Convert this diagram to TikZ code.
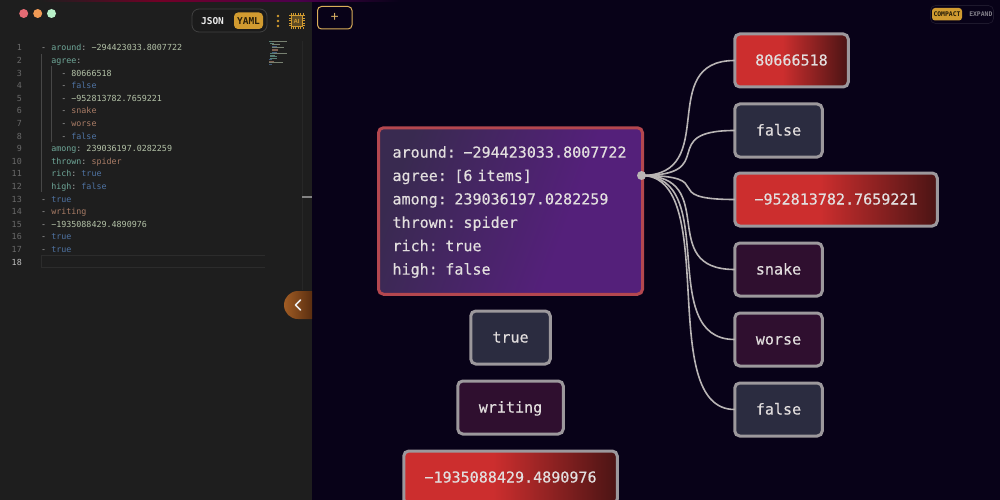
\documentclass[tikz,border=0pt]{standalone}
\usepackage{fontspec}
\setmainfont{Liberation Sans}
\setmonofont{DejaVu Sans Mono}
\newfontfamily\nodemono[FakeBold=0.4]{DejaVu Sans Mono}
\definecolor{canvas}{HTML}{080218}
\definecolor{panel}{HTML}{1E1E1E}
\definecolor{txt}{HTML}{E2DEDE}
\definecolor{edge}{HTML}{B9B5B5}
\definecolor{boxline}{HTML}{9C989C}
\definecolor{mainline}{HTML}{B4474F}
\definecolor{boolfill}{HTML}{2B2C40}
\definecolor{strfill}{HTML}{2F0F2F}
\definecolor{gold}{HTML}{D19B30}
\definecolor{ckey}{HTML}{6FA899}
\definecolor{cstr}{HTML}{A97C66}
\definecolor{cbool}{HTML}{4F73A3}
\definecolor{cnum}{HTML}{B4C3A8}
\definecolor{cdash}{HTML}{A8A8A8}
\definecolor{lnum}{HTML}{6A6A6A}
\definecolor{redA}{HTML}{CC2E2E}
\definecolor{redB}{HTML}{4A1414}
\definecolor{mainA}{HTML}{392A50}
\definecolor{mainB}{HTML}{54207A}
\definecolor{btnA}{HTML}{A05C24}
\definecolor{btnB}{HTML}{5A2E10}
\definecolor{dotR}{HTML}{E56B74}
\definecolor{dotO}{HTML}{F09A55}
\definecolor{dotG}{HTML}{B8F0C8}
\pgfdeclarehorizontalshading{numgrad}{100bp}{color(0bp)=(redA); color(46bp)=(redA); color(75bp)=(redB); color(100bp)=(redB)}
\pgfdeclarehorizontalshading{maingrad}{100bp}{color(0bp)=(mainA); color(25bp)=(mainA); color(62bp)=(mainB); color(100bp)=(mainB)}
\pgfdeclarehorizontalshading{btngrad}{100bp}{color(0bp)=(btnA); color(25bp)=(btnA); color(75bp)=(btnB); color(100bp)=(btnB)}
\pgfdeclarehorizontalshading{topgrad}{100bp}{color(0bp)=(panel); color(30bp)=(panel); color(45bp)=(purple!60!black); color(62bp)=(violet!60!black); color(75bp)=(canvas); color(100bp)=(canvas)}
\tikzset{
  box/.style={draw=boxline,line width=3pt,rounded corners=5pt,inner sep=0pt,outer sep=0pt,
    text=txt,font=\nodemono\fontsize{15.05}{18}\selectfont,text height=12pt,text depth=2pt,minimum height=53pt},
  boolbox/.style={box,fill=boolfill},
  strbox/.style={box,fill=strfill},
  numbox/.style={box,shading=numgrad},
  mainbox/.style={draw=mainline,line width=3pt,rounded corners=5pt,inner sep=0pt,outer sep=0pt,
    shading=maingrad,shading angle=-20,text=txt,align=left,text width=236pt,
    minimum width=264pt,minimum height=166.5pt,font=\nodemono\fontsize{15.05}{23.4}\selectfont},
  conn/.style={draw=edge,line width=1.6pt},
  handle/.style={circle,fill=edge,minimum size=9pt,inner sep=0pt,outer sep=0pt},
  lnlabel/.style={anchor=east,inner sep=0pt,text=lnum,font=\ttfamily\fontsize{8.36}{10}\selectfont,text height=7pt,text depth=.2pt},
  code/.style={anchor=west,inner sep=0pt,font=\ttfamily\fontsize{8.36}{10}\selectfont,text height=7pt,text depth=.2pt},
  guide/.style={draw=white!18!panel,line width=.7pt},
  toplabel/.style={inner sep=0pt,font=\ttfamily\bfseries\fontsize{9.5}{11}\selectfont},
  tinylabel/.style={inner sep=0pt,font=\ttfamily\bfseries\fontsize{6.4}{8}\selectfont},
  dotbtn/.style={circle,minimum size=9pt,inner sep=0pt},
  golddot/.style={circle,fill=gold,minimum size=2.8pt,inner sep=0pt},
}
\newcommand{\codeln}[3]{%
  \node[lnlabel] (ln#1) at (22,{47.5+12.6*(#1-1)}) {#1};
  \node[code] (cl#1) at ({41+5.03*#2},{47.5+12.6*(#1-1)}) {#3};}
\newcommand{\K}[1]{\textcolor{ckey}{#1}}
\newcommand{\St}[1]{\textcolor{cstr}{#1}}
\newcommand{\B}[1]{\textcolor{cbool}{#1}}
\newcommand{\Nm}[1]{\textcolor{cnum}{#1}}
\newcommand{\D}{\textcolor{cdash}{-}}
\begin{document}
\begin{tikzpicture}[x=1pt,y=-1pt]
\useasboundingbox (0,0) rectangle (1000,500);
\clip (0,0) rectangle (1000,500);
\fill[canvas] (0,0) rectangle (1000,500);
\fill[panel] (0,0) rectangle (312,500);
\shade[shading=topgrad] (0,0) rectangle (400,1.5);
% window controls
\node[dotbtn,fill=dotR] (wr) at (23.7,13.5) {};
\node[dotbtn,fill=dotO] (wo) at (37.7,13.5) {};
\node[dotbtn,fill=dotG] (wg) at (51.5,13.5) {};
% format switch
\draw[draw=white!15!panel,fill=black!10!panel,rounded corners=7pt,line width=.8pt] (192,9) rectangle (267,32);
\fill[gold,rounded corners=4pt] (234,12.5) rectangle (263,29);
\node[toplabel,text=white!92!black] (json) at (212.5,21) {JSON};
\node[toplabel,text=black!80!gold] (yaml) at (248.5,21) {YAML};
\node[golddot] (d1) at (278,16) {};
\node[golddot] (d2) at (278,21) {};
\node[golddot] (d3) at (278,26) {};
% chip icon
\draw[gold,line width=.9pt,fill=gold!35!panel] (291,15.5) rectangle (302,26.5);
\draw[gold,line width=2pt,dash pattern=on 1pt off 1.4pt] (290.5,14) -- (303,14);
\draw[gold,line width=2pt,dash pattern=on 1pt off 1.4pt] (290.5,28) -- (303,28);
\draw[gold,line width=2pt,dash pattern=on 1pt off 1.4pt] (289.5,15.5) -- (289.5,27);
\draw[gold,line width=2pt,dash pattern=on 1pt off 1.4pt] (303.5,15.5) -- (303.5,27);
\node[inner sep=0pt,text=gold,font=\bfseries\fontsize{6}{7}\selectfont] (ai) at (296.5,21) {AI};
% code
\draw[guide] (41,54) -- (41,192);
\draw[guide] (51,66) -- (51,142);
\codeln{1}{0}{\D\ \K{around}\textcolor{cdash}{:} \Nm{−294423033.8007722}}
\codeln{2}{2}{\K{agree}\textcolor{cdash}{:}}
\codeln{3}{4}{\D\ \Nm{80666518}}
\codeln{4}{4}{\D\ \B{false}}
\codeln{5}{4}{\D\ \Nm{−952813782.7659221}}
\codeln{6}{4}{\D\ \St{snake}}
\codeln{7}{4}{\D\ \St{worse}}
\codeln{8}{4}{\D\ \B{false}}
\codeln{9}{2}{\K{among}\textcolor{cdash}{:} \Nm{239036197.0282259}}
\codeln{10}{2}{\K{thrown}\textcolor{cdash}{:} \St{spider}}
\codeln{11}{2}{\K{rich}\textcolor{cdash}{:} \B{true}}
\codeln{12}{2}{\K{high}\textcolor{cdash}{:} \B{false}}
\codeln{13}{0}{\D\ \B{true}}
\codeln{14}{0}{\D\ \St{writing}}
\codeln{15}{0}{\D\ \Nm{−1935088429.4890976}}
\codeln{16}{0}{\D\ \B{true}}
\codeln{17}{0}{\D\ \B{true}}
\draw[draw=white!6!panel,line width=.8pt] (41,255.5) -- (265,255.5) (41,267.5) -- (265,267.5) (41,255.5) -- (41,267.5);
\node[lnlabel,text=white!75!black] (ln18) at (22,261.7) {18};
% minimap
\fill[ckey!70!panel] (269,41.5) rectangle (272,42.5);
\fill[cnum!60!panel] (272,41.5) rectangle (287,42.5);
\fill[ckey!70!panel] (270,43) rectangle (274,44);
\fill[cnum!60!panel] (272,44.5) rectangle (280,45.5);
\fill[cbool!70!panel] (272,46) rectangle (277,47);
\fill[cnum!60!panel] (272,47.5) rectangle (284,48.5);
\fill[cstr!70!panel] (272,49) rectangle (278,50);
\fill[cstr!70!panel] (272,50.5) rectangle (278,51.5);
\fill[cbool!70!panel] (272,52) rectangle (277,53);
\fill[ckey!70!panel] (270,53.5) rectangle (274,54.5);
\fill[cnum!60!panel] (274,53.5) rectangle (287,54.5);
\fill[ckey!70!panel] (270,55) rectangle (275,56);
\fill[ckey!70!panel] (270,56.5) rectangle (277,57.5);
\fill[ckey!70!panel] (270,58) rectangle (277,59);
\fill[cbool!70!panel] (269,59.5) rectangle (272,60.5);
\fill[cstr!70!panel] (269,61) rectangle (274,62);
\fill[cnum!60!panel] (269,62.5) rectangle (283,63.5);
\fill[cbool!70!panel] (269,64) rectangle (272,65);
% scrollbar
\draw[draw=white!4!panel,line width=.7pt] (302,41) -- (302,290);
\fill[white!45!panel] (302,196) rectangle (312,197.5);
% collapse button
\shade[shading=btngrad] (312,291) -- (298,291) arc[start angle=-90,end angle=-270,radius=14] -- (312,319) -- cycle;
\draw[white!92!black,line width=1.5pt,line cap=round,line join=round] (300.5,300) -- (295.5,305) -- (300.5,310);
% add button
\draw[draw=gold!80!white,rounded corners=4pt,line width=1pt] (317.5,6.5) rectangle (352,29);
\node[inner sep=0pt,text=gold!75!white,font=\fontsize{14}{14}\selectfont] (plus) at (334.7,17.5) {+};
% view toggle
\draw[draw=white!9!canvas,rounded corners=5pt,line width=.7pt] (930.5,5.5) rectangle (993.5,23.5);
\fill[gold,rounded corners=3pt] (932,8) rectangle (962,20.5);
\node[tinylabel,text=black!85!gold] (compact) at (947,14.5) {COMPACT};
\node[tinylabel,text=white!50!canvas] (expand) at (980.8,14.5) {EXPAND};
% nodes
\node[numbox,minimum width=113.5pt] (n1) at (791.5,60.5) {80666518};
\node[boolbox,minimum width=87.5pt] (n2) at (778.5,130.5) {false};
\node[numbox,minimum width=202.5pt] (n3) at (836,199.5) {−952813782.7659221};
\node[strbox,minimum width=87.5pt] (n4) at (778.5,269.5) {snake};
\node[strbox,minimum width=87.5pt] (n5) at (778.5,339.5) {worse};
\node[boolbox,minimum width=87.5pt] (n6) at (778.5,409.5) {false};
\node[boolbox,minimum width=79.5pt] (t1) at (510.5,337.5) {true};
\node[strbox,minimum width=105.5pt] (t2) at (510.5,407.5) {writing};
\node[numbox,minimum width=213.5pt] (t3) at (510.5,477.5) {−1935088429.4890976};
\node[mainbox] (m) at (510.5,211) {\rule{0pt}{13.4pt}around: −294423033.8007722\\agree: [6 items]\\among: 239036197.0282259\\thrown: spider\\rich: true\\high: false};
\node[handle] (h) at (641.5,175.5) {};
% connectors
\foreach \t in {n1,n2,n3,n4,n5,n6}
  \draw[conn] (h.center) .. controls +(80,0) and +(-80,0) .. (\t.west);
\end{tikzpicture}
\end{document}
